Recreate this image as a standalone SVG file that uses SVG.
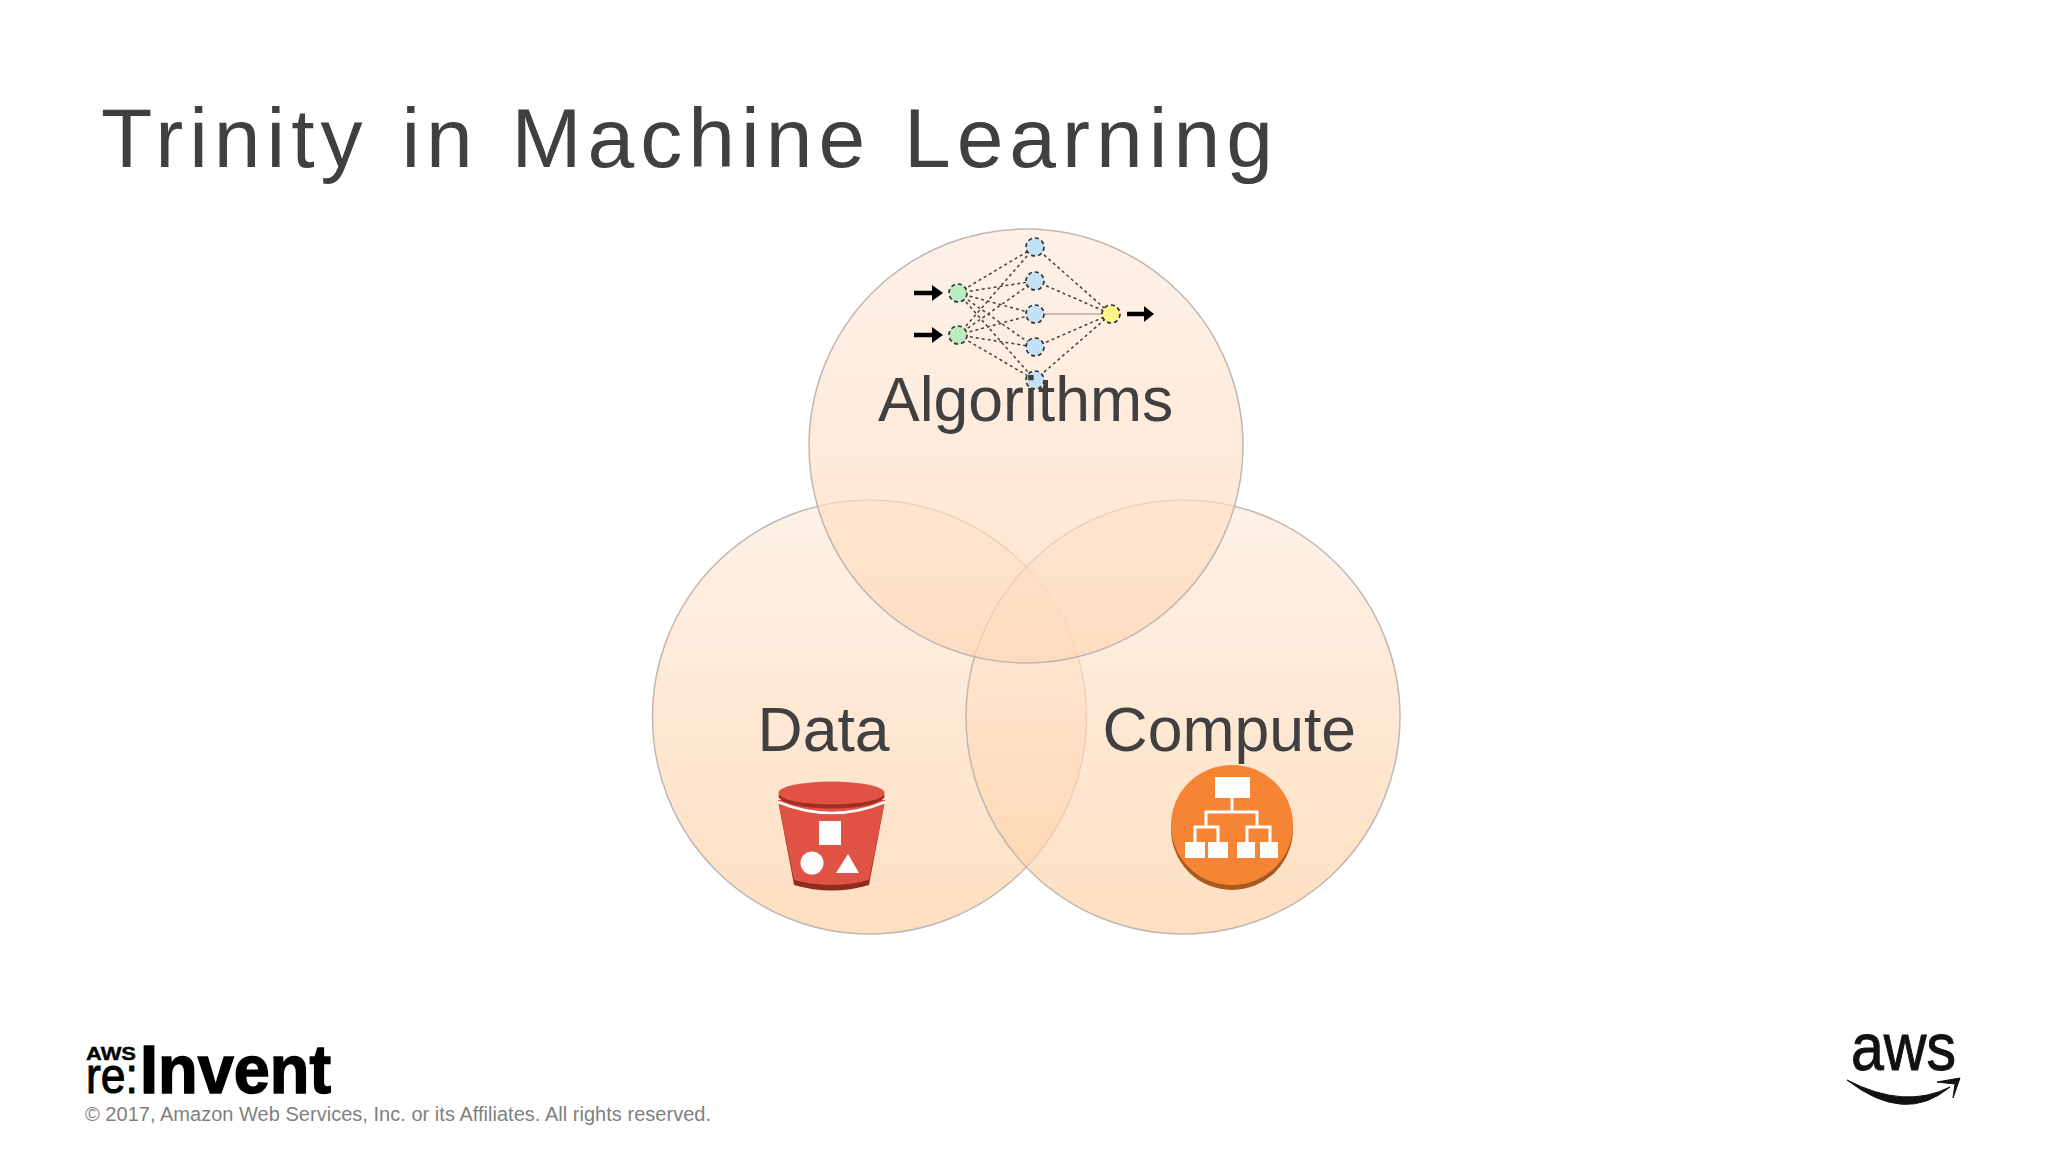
<svg xmlns="http://www.w3.org/2000/svg" width="2048" height="1152" viewBox="0 0 2048 1152">
<style>
text{font-family:"Liberation Sans",Arial,sans-serif}
.lbl{font-size:62.5px;fill:#404040}
.venn{fill:url(#g);stroke:#c0b8b0;stroke-width:1.5}
.top{fill:url(#t)}
.dn{stroke:#222;stroke-width:1.5;stroke-dasharray:3 3;fill:none;opacity:.85}
.nd{stroke:#333;stroke-width:1.7;stroke-dasharray:4 3}
.bl{fill:#c4e2f7}
.ar{stroke:#000;stroke-width:4.5;fill:none}
.ah{fill:#000}
.w{fill:#fff}
.wl{stroke:#fff;stroke-width:3;fill:none}
</style>
<defs>
<linearGradient id="g" x1="0" y1="0" x2="0" y2="1">
<stop offset="0" stop-color="#ffebdd" stop-opacity=".68"/>
<stop offset="1" stop-color="#fdd0a4" stop-opacity=".68"/>
</linearGradient>
<linearGradient id="t" x1="0" y1="0" x2="0" y2="1">
<stop offset="0" stop-color="#ffebde" stop-opacity=".68"/>
<stop offset="1" stop-color="#fdd7b6" stop-opacity=".68"/>
</linearGradient>
</defs>
<rect width="2048" height="1152" fill="#fff"/>
<text id="title" x="101" y="167" font-size="84" fill="#404040" letter-spacing="6" word-spacing="3.5">Trinity in Machine Learning</text>
<g id="data-circle"><circle class="venn" cx="869.5" cy="717" r="217"/></g>
<g id="compute-circle"><circle class="venn" cx="1183" cy="717" r="217"/></g>
<g id="algorithms-circle"><circle class="venn top" cx="1026" cy="446" r="217"/></g>
<g id="connectors">
<path class="dn" d="M958 293L1035 247M958 293L1035 281M958 293L1035 314M958 293L1035 347M958 293L1035 380M958 335L1035 247M958 335L1035 281M958 335L1035 314M958 335L1035 347M958 335L1035 380M1035 247L1111 314M1035 281L1111 314M1035 347L1111 314M1035 380L1111 314"/>
<path d="M1035 314H1111" stroke="#b9ab9c" stroke-width="1.5" fill="none"/>
<path class="ar" d="M914 293H934M914 335H934M1127 314H1146"/>
<path class="ah" d="M932 285L943 293L932 301ZM932 327L943 335L932 343ZM1144 306L1154 314L1144 322Z"/>
</g>
<g id="net-nodes">
<circle class="nd" cx="958" cy="293" r="9" fill="#b9ecc0"/>
<circle class="nd" cx="958" cy="335" r="9" fill="#b9ecc0"/>
<circle class="nd bl" cx="1035" cy="247" r="9"/>
<circle class="nd bl" cx="1035" cy="281" r="9"/>
<circle class="nd bl" cx="1035" cy="314" r="9"/>
<circle class="nd bl" cx="1035" cy="347" r="9"/>
<circle class="nd bl" cx="1035" cy="380" r="9"/>
<circle class="nd" cx="1111" cy="314" r="9" fill="#fdf58a"/>
</g>
<g id="algorithms"><text class="lbl" x="878" y="421">Algorithms</text></g>
<g id="data"><text class="lbl" x="757.5" y="751">Data</text></g>
<g id="compute"><text class="lbl" x="1102.5" y="751">Compute</text></g>
<g id="bucket">
<path d="M778 800H885L869 885Q832 896 794 885Z" fill="#8f2c1f"/>
<path d="M778 800H885L869 880Q832 890 794 880Z" fill="#e05243"/>
<path d="M778 802Q832 824 885 802" stroke="#fff" stroke-width="2.5" fill="none"/>
<ellipse cx="831.5" cy="796" rx="53" ry="12.5" fill="#9c2f22"/>
<ellipse cx="831.5" cy="793" rx="53" ry="11.5" fill="#e05243"/>
<rect class="w" x="819" y="821" width="22" height="24"/>
<circle class="w" cx="812" cy="863" r="11.5"/>
<path class="w" d="M848 854L859 873H836Z"/>
</g>
<g id="hierarchy">
<ellipse cx="1232" cy="829" rx="61" ry="61" fill="#a85a1f"/>
<ellipse cx="1232" cy="825" rx="61" ry="60" fill="#f58534"/>
<rect class="w" x="1215" y="777" width="35" height="21"/>
<path class="wl" d="M1232 798V812M1206 827V812H1257V827M1195 842V827H1218V842M1247 842V827H1270V842"/>
<rect class="w" x="1185" y="842" width="20" height="16"/>
<rect class="w" x="1208" y="842" width="20" height="16"/>
<rect class="w" x="1237" y="842" width="18" height="16"/>
<rect class="w" x="1260" y="842" width="18" height="16"/>
</g>
<g id="reinvent-logo" fill="#000" stroke="#000">
<text x="86" y="1060" font-size="19" font-weight="700" stroke-width=".4" textLength="50" lengthAdjust="spacingAndGlyphs">AWS</text>
<text x="86" y="1093" font-size="50" stroke-width="1" textLength="52" lengthAdjust="spacingAndGlyphs">re:</text>
<text x="140" y="1093" font-size="69" font-weight="700" stroke-width="1.5" textLength="191" lengthAdjust="spacingAndGlyphs">Invent</text>
</g>
<text id="copyright" x="85" y="1121" font-size="20" fill="#7f7f7f" textLength="626" lengthAdjust="spacing">© 2017, Amazon Web Services, Inc. or its Affiliates. All rights reserved.</text>
<g id="aws-logo">
<text x="1851" y="1070" font-size="66" fill="#111" stroke="#111" stroke-width="1" textLength="105" lengthAdjust="spacingAndGlyphs">aws</text>
<path d="M1847 1080Q1905 1125 1950 1087Q1905 1110 1847 1080Z" fill="#111" stroke="#111" stroke-width="1"/>
<path d="M1937 1082L1960 1078L1953 1098L1955 1084Z" fill="#111" stroke="#111" stroke-width="1"/>
</g>
</svg>
